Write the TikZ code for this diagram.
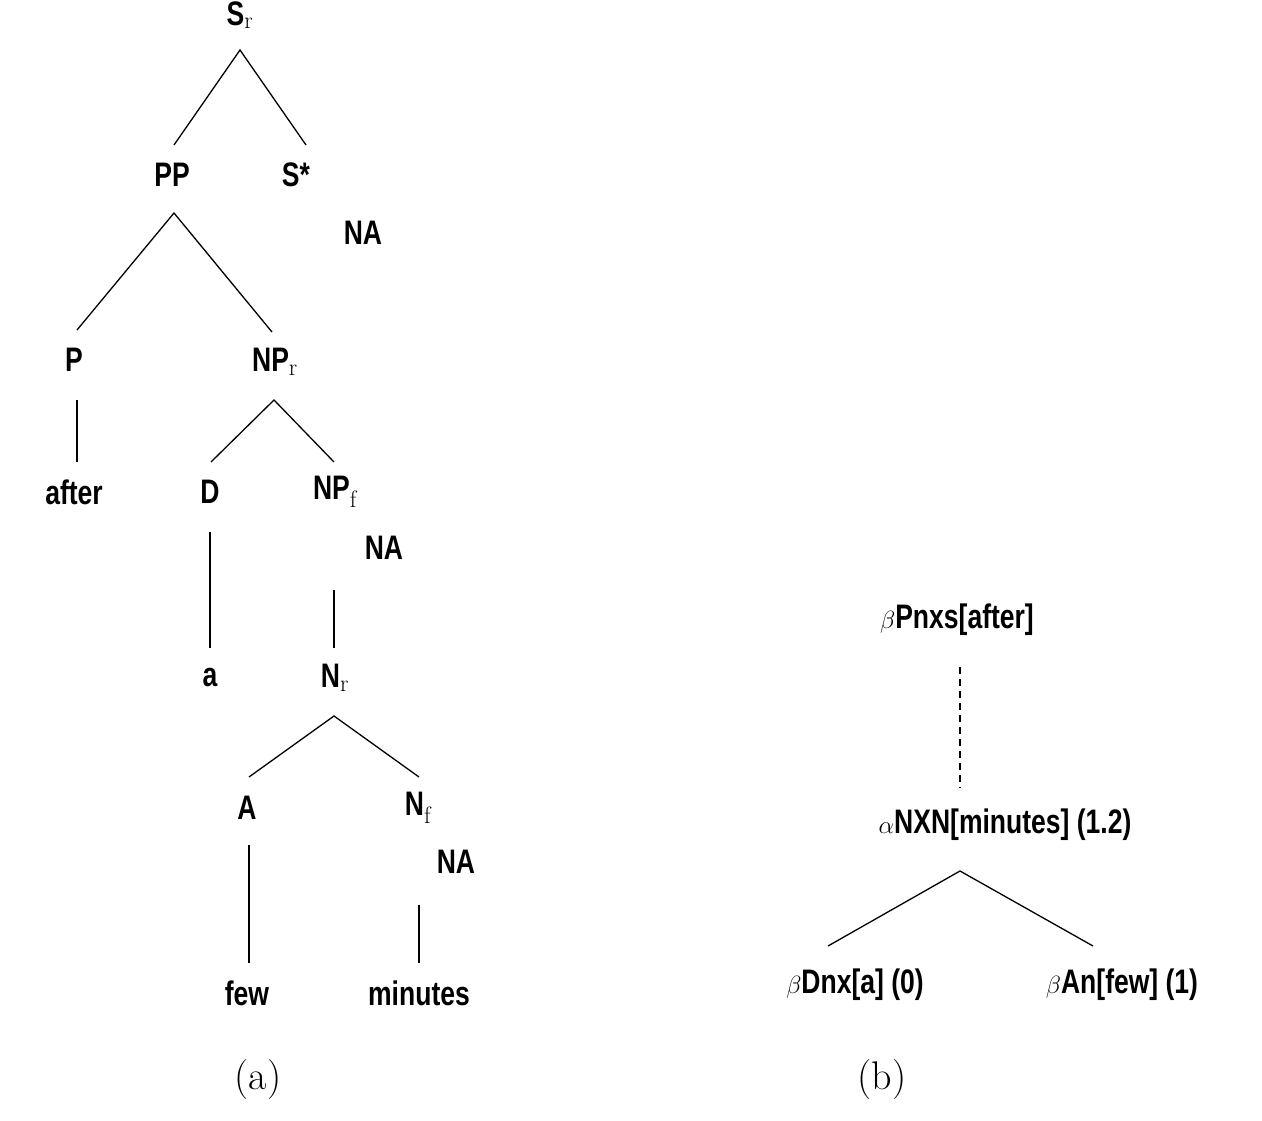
\documentclass[tikz,border=0pt]{standalone}
\usepackage{fontspec}
\newfontfamily\lab[FakeStretch=0.78]{Liberation Sans}
\newcommand\mysub[1]{\textsubscript{\normalfont\rmfamily #1}}
\begin{document}
\begin{tikzpicture}[x=1pt,y=-1pt,
  t/.style={font=\lab\bfseries\fontsize{34}{40}\selectfont,inner sep=0pt},
  l/.style={line width=1.3pt},
  captxt/.style={font=\fontsize{40}{46}\selectfont,inner sep=0pt}]
\useasboundingbox (0,0) rectangle (1262,1121);
\node[t] (S) at (240,15) {S\mysub{r}};
\node[t] (PP) at (172,175) {PP};
\node[t] (Ss) at (296,175) {S*};
\node[t] (na1) at (363,233) {NA};
\node[t] (P) at (74,360) {P};
\node[t] (NPr) at (275,362) {NP\mysub{r}};
\node[t] (after) at (74,492) {after};
\node[t] (D) at (210,492) {D};
\node[t] (NPf) at (335,492) {NP\mysub{f}};
\node[t] (na2) at (384,548) {NA};
\node[t] (a) at (210,678) {a};
\node[t] (Nr) at (335,678) {N\mysub{r}};
\node[t] (A) at (247,808) {A};
\node[t] (Nf) at (418,808) {N\mysub{f}};
\node[t] (na3) at (456,862) {NA};
\node[t] (few) at (247,993) {few};
\node[t] (min) at (419,993) {minutes};
\node[captxt] (ca) at (258,1080) {(a)};
\node[captxt] (cb) at (882,1080) {(b)};
\foreach \n/\x/\y in {s1/240/50,pp1/174/145,ss1/306/145,pp2/174/213,p1/77/330,np1/272/332,p2/77/400,af/77/462,np2/274/400,d1/211/462,nf1/334/462,d2/210/532,a1/210/648,nf2/334/590,nr1/334/648,nr2/334/716,A1/249/777,Nf1/419/777,A2/249/845,few1/249/963,Nf2/419/905,m1/419/963}
  \coordinate (\n) at (\x,\y);
\draw[l] (pp1)--(s1)--(ss1);
\draw[l] (p1)--(pp2)--(np1);
\draw[l] (p2)--(af);
\draw[l] (d1)--(np2)--(nf1);
\draw[l] (d2)--(a1);
\draw[l] (nf2)--(nr1);
\draw[l] (A1)--(nr2)--(Nf1);
\draw[l] (A2)--(few1);
\draw[l] (Nf2)--(m1);
\node[t] (b1) at (957,620) {$\beta$Pnxs[after]};
\node[t] (b2) at (1005,825) {$\alpha$NXN[minutes] (1.2)};
\node[t] (b3) at (855,985) {$\beta$Dnx[a] (0)};
\node[t] (b4) at (1122,985) {$\beta$An[few] (1)};
\coordinate (e1) at (960,667); \coordinate (e2) at (960,788);
\coordinate (f0) at (960,871); \coordinate (f1) at (828,946); \coordinate (f2) at (1093,946);
\draw[l,dash pattern=on 7pt off 5pt] (e1)--(e2);
\draw[l] (f1)--(f0)--(f2);
\end{tikzpicture}
\end{document}
